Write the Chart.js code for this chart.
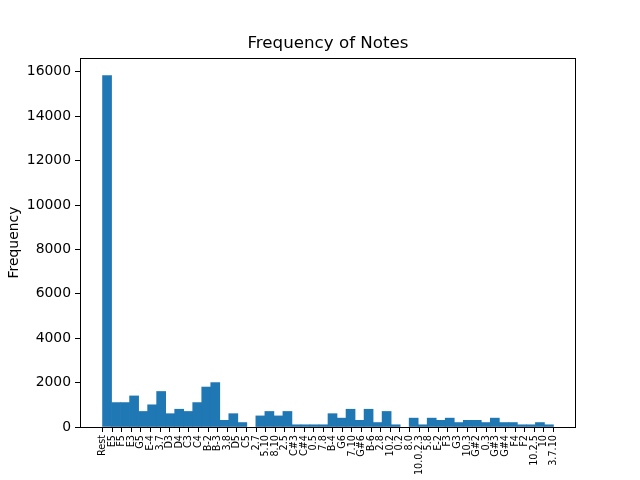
<!DOCTYPE html>
<html>
<head>
<meta charset="utf-8">
<title>Frequency of Notes</title>
<script src="https://cdn.jsdelivr.net/npm/chart.js@4/dist/chart.umd.min.js"></script>
<style>
  html, body { margin: 0; padding: 0; background: #fff; }
  #chart { display: block; }
</style>
</head>
<body>
<canvas id="chart" width="640" height="480"></canvas>
<script>
// Note names, in the order they appear on the x axis
const notes = [
  'Rest', 'E5', 'F5', 'E3', 'G5', 'E-4', '3.7', 'D3', 'D4', 'C3', 'C4', 'B-2',
  'B-3', '3.8', 'D5', 'C5', '2.7', '5.10', '8.10', '2.5', 'C#3', 'C#4', '0.5', '7.8',
  'B-4', 'G6', '7.10', 'G#6', 'B-6', '2.8', '10.2', '0.2', '8.0', '10.0.2.3', '5.8', 'E-2',
  'F3', 'G3', '10.3', 'G#2', '0.3', 'G#3', 'G#4', 'F4', 'F2', '10.2.5', '10', '3.7.10'
];

// How often each note occurs
const counts = [
  15830, 1100, 1100, 1400, 700, 1000, 1600, 600, 800, 700, 1100, 1800,
  2000, 300, 600, 200, 500, 700, 500, 700, 100, 100, 100, 100,
  600, 400, 800, 300, 800, 200, 700, 100, 400, 100, 400, 300,
  400, 200, 300, 300, 200, 400, 200, 200, 100, 100, 200, 100
];

const yTicks = [0, 2000, 4000, 6000, 8000, 10000, 12000, 14000, 16000];

// histogram binning: 50 bins across the note index range
const nBins = 50;
const binW = (notes.length - 1) / nBins;
const bars = counts.map((c, i) => {
  const bin = Math.min(Math.floor(i / binW), nBins - 1);
  return { x: (bin + 0.5) * binW, y: c };
});

const xSpan = notes.length - 1;
const yMax = Math.max(...counts) * 1.05;

Chart.defaults.font.family = 'DejaVu Sans';
Chart.defaults.color = '#000';

// draw the box round the plot area, like matplotlib spines
const frame = {
  id: 'frame',
  afterDraw(chart) {
    const a = chart.chartArea;
    const ctx = chart.ctx;
    ctx.save();
    ctx.strokeStyle = '#000';
    ctx.lineWidth = 1;
    ctx.strokeRect(Math.round(a.left) + 0.5, Math.round(a.top) + 0.5,
      Math.round(a.right - a.left) - 1, Math.round(a.bottom - a.top));
    ctx.restore();
  }
};

new Chart(document.getElementById('chart'), {
  type: 'bar',
  data: {
    datasets: [{
      data: bars,
      backgroundColor: '#1f77b4',
      borderWidth: 0,
      categoryPercentage: 1.0,
      barPercentage: 1.0
    }]
  },
  options: {
    responsive: false,
    animation: false,
    layout: { padding: { left: 0, right: 64, top: 0, bottom: 0 } },
    plugins: {
      legend: { display: false },
      tooltip: { enabled: false },
      title: {
        display: true,
        fullSize: false,
        text: 'Frequency of Notes',
        color: '#000',
        font: { size: 16.7, weight: 'normal' },
        padding: { top: 34, bottom: 4 }
      }
    },
    scales: {
      x: {
        type: 'linear',
        offset: false,
        min: -0.05 * xSpan,
        max: xSpan * 1.05,
        afterBuildTicks: scale => {
          scale.ticks = notes.map((n, i) => ({ value: i }));
        },
        afterFit: scale => { scale.height = 53; },
        grid: { offset: false, drawOnChartArea: false, drawTicks: true, tickLength: 5, color: '#000' },
        border: { display: false },
        ticks: {
          autoSkip: false,
          minRotation: 90,
          maxRotation: 90,
          padding: 3,
          font: { size: 9.7 },
          callback: value => notes[Math.round(value)]
        }
      },
      y: {
        min: 0,
        max: yMax,
        afterBuildTicks: scale => {
          scale.ticks = yTicks.map(v => ({ value: v }));
        },
        afterFit: scale => { scale.width = 80; },
        grid: { drawOnChartArea: false, drawTicks: true, tickLength: 5, color: '#000' },
        border: { display: false },
        ticks: {
          padding: 4,
          font: { size: 13.9 },
          callback: value => String(value)
        },
        title: {
          display: true,
          text: 'Frequency',
          font: { size: 13.9 },
          padding: { top: 6, bottom: 0 }
        }
      }
    }
  },
  plugins: [frame]
});
</script>
</body>
</html>
